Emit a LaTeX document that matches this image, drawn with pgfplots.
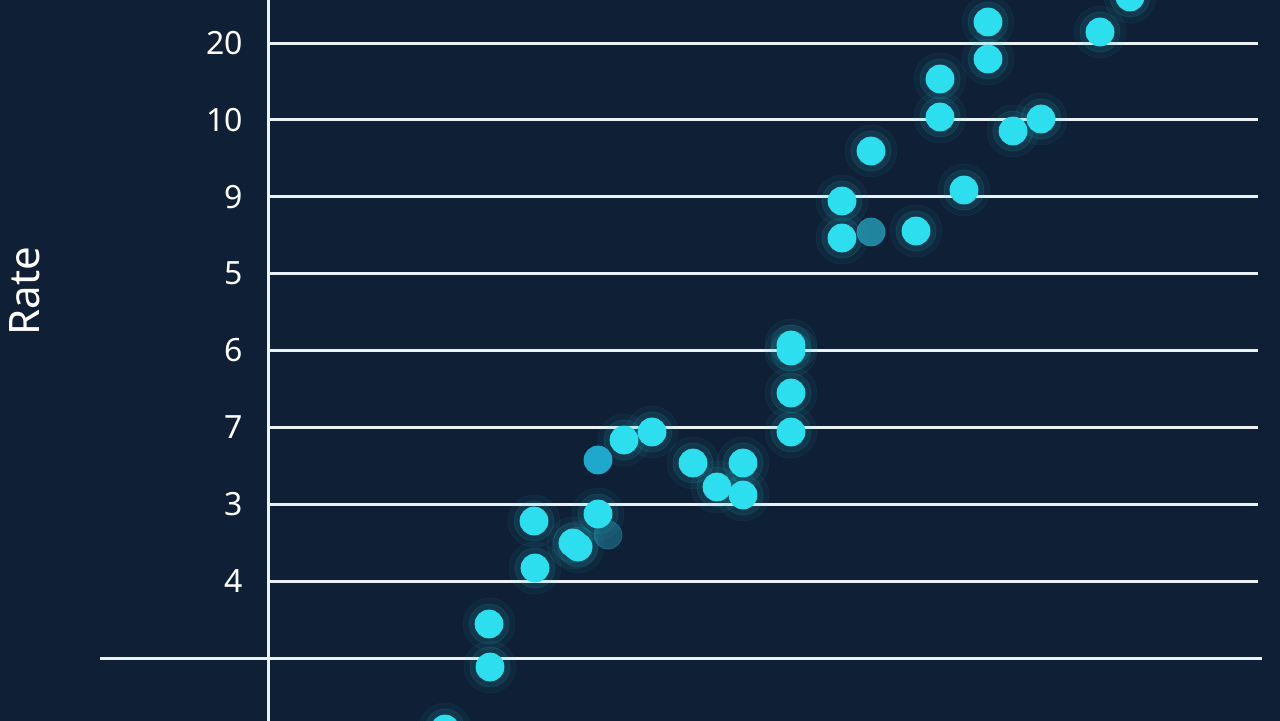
\documentclass[border=0pt]{standalone}
\usepackage{pgfplots}
\pgfplotsset{compat=1.18}
\usepackage{fontspec}
\setmainfont{Noto Sans}
\definecolor{bg}{RGB}{15,31,53}
\definecolor{dot}{RGB}{44,222,238}
\definecolor{dotdim}{RGB}{32,168,204}
\definecolor{dotfade}{RGB}{36,150,178}
\definecolor{gridc}{RGB}{234,242,246}
\pgfplotstableread{
x y
445 -9
490 53
489 96
535 152
534 199
573 177
578 173
598 206
624 280
652 288
693 257
743 257
717 233
743 225
791 288
791 327
791 369
791 375
842 519
842 482
871 569
916 489
940 641
940 603
964 530
988 698
988 661
1013 589
1041 601
1100 688
1130 723
}\maindata
\begin{document}
\begin{tikzpicture}
\begin{axis}[
  scale only axis,
  width=640pt, height=380pt,
  xmin=0, xmax=1280, ymin=-20, ymax=740,
  axis background/.style={fill=bg},
  axis line style={draw=none},
  major tick length=0pt,
  xtick=\empty,
  ytick={138.875,215.75,292.625,369.5,446.375,523.25,600.125,677},
  yticklabels={4,3,7,6,5,9,10,20},
  /pgf/number format/assume math mode=true,
  yticklabel style={font=\fontsize{16}{18}\selectfont, text=white, anchor=east, xshift=125pt},
  ylabel={Rate},
  every axis y label/.style={at={(axis cs:25,429)}, rotate=90, anchor=center, font=\fontsize{21}{24}\selectfont, text=white},
]
\coordinate (bl) at (axis cs:0,0);
\coordinate (tr) at (axis cs:1280,720);
% axis and grid lines
\draw[gridc, line width=1.5pt] (axis cs:268,-20) -- (axis cs:268,740);
\draw[gridc, line width=1.5pt] (axis cs:100,62) -- (axis cs:1262,62);
\foreach \yy in {138.875,215.75,292.625,369.5,446.375,523.25,600.125,677}{
  \edef\tmp{\noexpand\draw[gridc, line width=1.5pt] (axis cs:268,\yy) -- (axis cs:1258,\yy);}\tmp
}
% glow
\addplot[only marks, color=dot, mark=*, mark size=13pt, opacity=0.05] table {\maindata};
\addplot[only marks, color=dot, mark=*, mark size=10pt, opacity=0.09] table {\maindata};
% faded points
\addplot[only marks, color=dotfade, mark=*, mark size=7pt, opacity=0.45] table {
x y
608 185
};
\addplot[only marks, color=dotfade, mark=*, mark size=7pt, opacity=0.85] table {
x y
871 488
};
% dim point
\addplot[only marks, color=dotdim, mark=*, mark size=7pt] table {
x y
598 260
};
% main points
\addplot[only marks, color=dot, mark=*, mark size=7pt] table {\maindata};
\end{axis}
\pgfresetboundingbox
\useasboundingbox (bl) rectangle (tr);
\end{tikzpicture}
\end{document}
